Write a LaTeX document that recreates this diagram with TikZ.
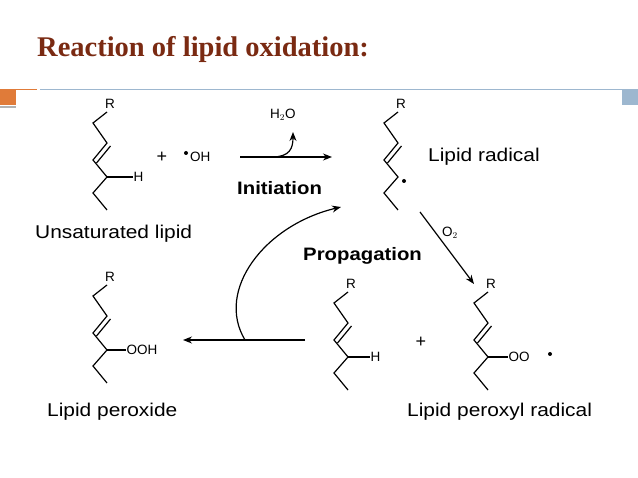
\documentclass[tikz,border=0pt]{standalone}
\usepackage{fontspec}
\setmainfont{Liberation Serif}
\newfontfamily\lab{Liberation Sans}
\newfontfamily\labw[FakeStretch=1.13]{Liberation Sans}
\usetikzlibrary{arrows.meta}
\definecolor{titlered}{HTML}{7A2A12}
\definecolor{hblue}{HTML}{9DB7CF}
\definecolor{horange}{HTML}{E07B39}
\tikzset{bond/.style={line width=1.2pt},
 lbl/.style={font=\labw\fontsize{18.5}{20}\selectfont, inner sep=0pt, anchor=west},
 atom/.style={font=\lab\fontsize{13.5}{15}\selectfont, inner sep=0pt},
 plus/.style={font=\lab\fontsize{18}{20}\selectfont, inner sep=0pt},
 blbl/.style={font=\labw\bfseries\fontsize{18}{20}\selectfont, inner sep=0pt, anchor=west},
 rxn/.style={line width=1.2pt,-{Stealth[length=9pt,width=7pt]}}}
\newcommand{\lipid}[2]{% #1 name, #2 origin
 \begin{scope}[shift={#2}]
  \draw[bond] (0,-65) -- (-14,-54) -- (0,-34) -- (-14,-17) -- (0,0) -- (-14,16) -- (0,33);
  \draw[bond] (3.5,-31) -- (-10.5,-14);
  \node[atom] (#1R) at (3,-73) {R};
 \end{scope}}
\begin{document}
\begin{tikzpicture}[x=1pt,y=-1pt]
\useasboundingbox (0,0) rectangle (638,478);
\fill[white] (0,0) rectangle (638,478);
\node[font=\bfseries\fontsize{28.5}{32}\selectfont, text=titlered, anchor=west, inner sep=0pt] (title) at (37,50) {Reaction of lipid oxidation:};
\draw[hblue, line width=0.8pt] (40,89) -- (638,89);
\fill[horange] (0,89) rectangle (16,105);
\draw[horange, line width=0.8pt] (16,89) -- (37,89);
\fill[gray!60] (0,106) rectangle (16,108);
\fill[hblue] (622,89) rectangle (638,105);
% molecules
\lipid{a}{(107,177)}
\draw[bond] (107,177) -- (133,177) node[atom, anchor=west] (aH) {H};
\node[lbl] (alab) at (35,234) {Unsaturated lipid};
\lipid{b}{(398,177)}
\fill (404,181) circle (2pt);
\node[lbl] (blab) at (428,157) {Lipid radical};
\lipid{c}{(107,350)}
\draw[bond] (107,350) -- (126,350) node[atom, anchor=west] (cO) {OOH};
\node[lbl] (clab) at (47,412) {Lipid peroxide};
\lipid{d}{(348,357)}
\draw[bond] (348,357) -- (370,357) node[atom, anchor=west] (dH) {H};
\lipid{e}{(488,357)}
\draw[bond] (488,357) -- (508,357) node[atom, anchor=west] (eO) {OO};
\fill (550,354) circle (2pt);
\node[lbl] (elab) at (407,412) {Lipid peroxyl radical};
% reagents
\node[plus] (plus1) at (162,157) {+};
\node[atom, anchor=west] (oh) at (190,157) {OH};
\fill (186,153) circle (2pt);
\node[plus] (plus2) at (421,342) {+};
\node[atom, anchor=west] (h2o) at (270,115) {H$_2$O};
\node[atom, anchor=west] (o2) at (442,233) {O$_2$};
% arrows
\coordinate (i1) at (240,157); \coordinate (i2) at (332,157);
\draw[rxn] (i1) -- (i2);
\draw[rxn] (272,157) .. controls (290,157) and (293,148) .. (293,132);
\node[blbl] (init) at (237,188) {Initiation};
\coordinate (p1) at (420,212); \coordinate (p2) at (474,284);
\draw[rxn] (p1) -- (p2);
\node[blbl] (prop) at (303,256) {Propagation};
\coordinate (h1) at (305,340); \coordinate (h2) at (183,340);
\draw[rxn] (h1) -- (h2);
\draw[rxn] (245,340) .. controls (215,290) and (265,225) .. (341,207);
\end{tikzpicture}
\end{document}
